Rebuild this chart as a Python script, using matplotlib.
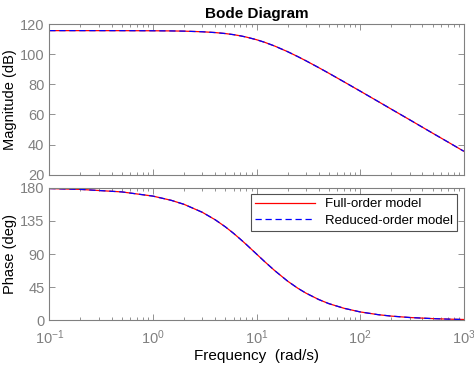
import matplotlib.pyplot as plt
from matplotlib.ticker import LogLocator, NullFormatter

# Значения
freq = [0.1, 0.2, 0.5, 1, 1.5, 2, 3, 4, 5, 6, 7, 8, 10, 12, 15, 20, 25, 30,
        40, 50, 70, 100, 150, 200, 300, 500, 700, 1000]
mag_full = [115.6, 115.6, 115.58, 115.51, 115.41, 115.26, 114.85, 114.31, 113.66,
            112.93, 112.14, 111.3, 109.58, 107.85, 105.36, 101.62, 98.39, 95.6,
            90.99, 87.3, 81.6, 75.5, 68.5, 63.5, 56.5, 47.6, 41.8, 35.6]
phase_full = [178.85, 177.7, 174.3, 168.6, 162.9, 157.4, 146.6, 136.4, 126.9,
              118.1, 110.0, 102.7, 90.0, 79.6, 67.4, 53.1, 43.6, 36.9,
              28.1, 22.6, 16.3, 11.4, 7.6, 5.7, 3.8, 2.3, 1.6, 1.1]
# редуцированная модель совпадает с полной на глаз
mag_red = list(mag_full)
phase_red = list(phase_full)

plt.rcParams['font.family'] = ['Liberation Sans', 'DejaVu Sans']

gray = '#808080'
fig = plt.figure(figsize=(4.74, 3.66), dpi=100)
W, H = 474, 366
ax1 = fig.add_axes([49.3 / W, 1 - 174.7 / H, (463.7 - 49.3) / W, (174.7 - 24) / H])
ax2 = fig.add_axes([49.3 / W, 1 - 320.3 / H, (463.7 - 49.3) / W, (320.3 - 187.7) / H])

for ax in (ax1, ax2):
    ax.set_xscale('log')
    ax.set_xlim(0.1, 1000)
    ax.xaxis.set_major_locator(LogLocator(base=10, numticks=10))
    ax.xaxis.set_minor_locator(LogLocator(base=10, subs=range(2, 10), numticks=10))
    ax.xaxis.set_minor_formatter(NullFormatter())
    ax.tick_params(which='both', direction='in', top=True, right=True,
                   colors=gray, labelsize=10.5, width=0.6)
    ax.tick_params(which='major', length=4)
    ax.tick_params(which='minor', length=2)
    ax.tick_params(axis='x', pad=6)
    for s in ax.spines.values():
        s.set_color(gray)
        s.set_linewidth(0.8)

ax1.plot(freq, mag_full, color='#ff0000', lw=0.9, label='Full-order model')
ax1.plot(freq, mag_red, color='#0000ff', lw=0.9, ls=(0, (5, 3)), label='Reduced-order model')
ax1.set_ylim(20, 120)
ax1.set_yticks([20, 40, 60, 80, 100, 120])
ax1.set_xticklabels([])
ax1.set_ylabel('Magnitude (dB)', fontsize=10.5)
ax1.set_title('Bode Diagram', fontsize=11, fontweight='bold', pad=4)

ax2.plot(freq, phase_full, color='#ff0000', lw=0.9, label='Full-order model')
ax2.plot(freq, phase_red, color='#0000ff', lw=0.9, ls=(0, (5, 3)), label='Reduced-order model')
ax2.set_ylim(0, 180)
ax2.set_yticks([0, 45, 90, 135, 180])
ax2.set_ylabel('Phase (deg)', fontsize=10.5)
ax2.set_xlabel('Frequency  (rad/s)', fontsize=11, labelpad=1)
ax1.yaxis.set_label_coords(-0.077, 0.5)
ax2.yaxis.set_label_coords(-0.077, 0.5)

leg = ax2.legend(loc='upper right', fontsize=9.5, frameon=True, fancybox=False,
                 handlelength=4.5, borderaxespad=0.5, borderpad=0.3, labelspacing=0.3)
leg.get_frame().set_edgecolor('#262626')
leg.get_frame().set_linewidth(0.8)

fig.savefig('out.png', dpi=100)
